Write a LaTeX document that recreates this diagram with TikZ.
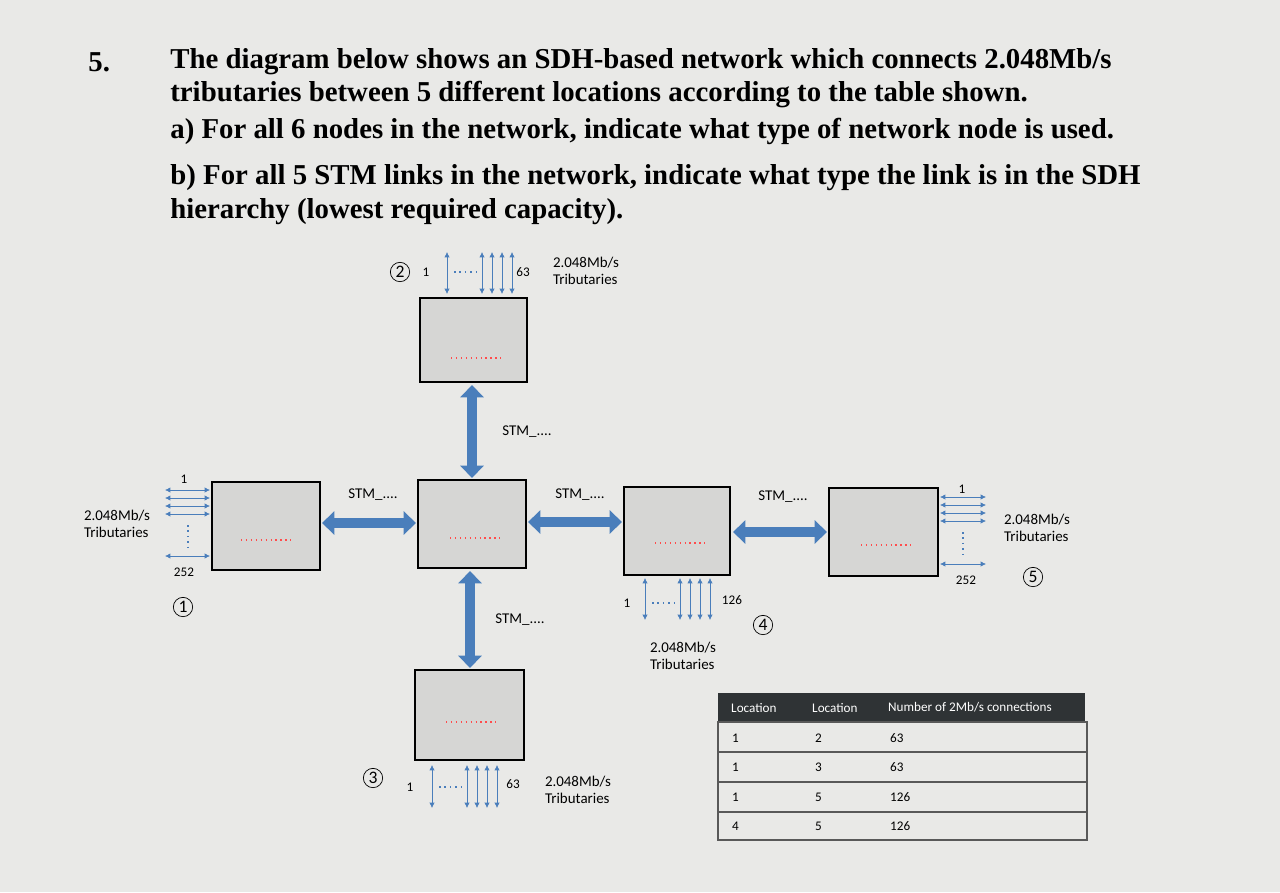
\documentclass[tikz,border=0pt]{standalone}
\usepackage{fontspec}
\setmainfont{Liberation Serif}
\newfontfamily\diag{Carlito}
\usetikzlibrary{arrows.meta}
\definecolor{linkblue}{HTML}{4A7EBB}
\definecolor{paper}{HTML}{E9E9E7}
\definecolor{boxgray}{HTML}{D6D6D4}
\definecolor{headgray}{HTML}{2F3335}
\tikzset{
    box/.style={draw=black, thick, fill=boxgray},
    stm/.style={linkblue, line width=5.5pt, {Triangle[width=13pt,length=7pt]}-{Triangle[width=13pt,length=7pt]}},
    trib/.style={linkblue, thin, {Latex[length=3pt,width=3pt]}-{Latex[length=3pt,width=3pt]}},
    dots/.style={linkblue, line width=1.3pt, dash pattern=on 0.9pt off 2.2pt},
    lbl/.style={font=\diag\fontsize{8.5}{10}\selectfont},
    num/.style={font=\diag\fontsize{7.5}{8}\selectfont},
    circnum/.style={draw, circle, thin, inner sep=0pt, minimum size=11pt, font=\diag\fontsize{10}{10}\selectfont},
    que/.style={anchor=west, font=\bfseries\fontsize{16.4}{18}\selectfont, inner sep=0pt}
}
\begin{document}
\begin{tikzpicture}[x=0.02cm, y=-0.02cm]
    \fill[paper] (0,0) rectangle (1280,892);
    \useasboundingbox (0,0) rectangle (1280,892);

    % Question text
    \node[que] (qn) at (88,62) {5.};
    \node[que] (q1) at (170,62) {The diagram below shows an SDH-based network which connects 2.048Mb/s};
    \node[que] (q2) at (170,95) {tributaries between 5 different locations according to the table shown.};
    \node[que] (q3) at (170,131) {a) For all 6 nodes in the network, indicate what type of network node is used.};
    \node[que] (q4) at (170,178) {b) For all 5 STM links in the network, indicate what type the link is in the SDH};
    \node[que] (q5) at (170,212) {hierarchy (lowest required capacity).};

    % Network nodes
    \draw[box] (420,298) rectangle (527,382);
    \draw[box] (212,482) rectangle (320,570);
    \draw[box] (418,480) rectangle (526,568);
    \draw[box] (624,487) rectangle (730,575);
    \draw[box] (829,488) rectangle (938,576);
    \draw[box] (415,670) rectangle (524,760);
    \foreach \cx/\cy in {476/358, 266/540, 475/538, 680/543, 886/545, 471/722}
        \draw[red!70, line width=1.2pt, dash pattern=on 0.8pt off 2pt] (\cx-25,\cy) -- (\cx+25,\cy);

    % STM links
    \coordinate (n2b) at (472,385);  \coordinate (ncT) at (472,478);
    \coordinate (n1r) at (322,523);  \coordinate (ncL) at (416,523);
    \coordinate (ncR) at (528,522);  \coordinate (n4l) at (622,522);
    \coordinate (n4r) at (733,532);  \coordinate (n5l) at (827,532);
    \coordinate (ncB) at (470,571);  \coordinate (n3t) at (470,668);
    \draw[stm] (n2b) -- (ncT);
    \draw[stm] (n1r) -- (ncL);
    \draw[stm] (ncR) -- (n4l);
    \draw[stm] (n4r) -- (n5l);
    \draw[stm] (ncB) -- (n3t);
    \node[lbl] (s1) at (527,432) {STM\_....};
    \node[lbl] (s2) at (373,495) {STM\_....};
    \node[lbl] (s3) at (580,495) {STM\_....};
    \node[lbl] (s4) at (783,497) {STM\_....};
    \node[lbl] (s5) at (520,620) {STM\_....};

    % Tributaries of node 2
    \foreach \x in {447,482,492,502,512} \draw[trib] (\x,252) -- (\x,294);
    \draw[dots] (454,272) -- (476,272);
    \node[num] (t2a) at (426,272) {1};
    \node[num] (t2b) at (523,272) {63};
    \node[circnum] (c2) at (400,272) {2};
    \node[lbl, align=left] (t2) at (586,271) {2.048Mb/s\\Tributaries};

    % Tributaries of node 1
    \foreach \y in {490,498,506,514,556} \draw[trib] (165,\y) -- (210,\y);
    \draw[dots] (188,525) -- (188,548);
    \node[num] (t1a) at (184,479) {1};
    \node[num] (t1b) at (184,572) {252};
    \node[circnum] (c1) at (183,607) {1};
    \node[lbl, align=left] (t1) at (117,524) {2.048Mb/s\\Tributaries};

    % Tributaries of node 5
    \foreach \y in {497,505,513,521,564} \draw[trib] (940,\y) -- (986,\y);
    \draw[dots] (963,532) -- (963,556);
    \node[num] (t5a) at (962,489) {1};
    \node[num] (t5b) at (966,580) {252};
    \node[circnum] (c5) at (1033,577) {5};
    \node[lbl, align=left] (t5) at (1037,528) {2.048Mb/s\\Tributaries};

    % Tributaries of node 4
    \foreach \x in {645,680,690,700,710} \draw[trib] (\x,578) -- (\x,620);
    \draw[dots] (652,603) -- (674,603);
    \node[num] (t4a) at (627,603) {1};
    \node[num] (t4b) at (732,600) {126};
    \node[circnum] (c4) at (763,625) {4};
    \node[lbl, align=left] (t4) at (683,656) {2.048Mb/s\\Tributaries};

    % Tributaries of node 3
    \foreach \x in {432,467,477,487,497} \draw[trib] (\x,765) -- (\x,808);
    \draw[dots] (439,787) -- (461,787);
    \node[num] (t3a) at (410,787) {1};
    \node[num] (t3b) at (513,784) {63};
    \node[circnum] (c3) at (373,778) {3};
    \node[lbl, align=left] (t3) at (578,790) {2.048Mb/s\\Tributaries};

    % Table
    \fill[headgray] (718,693) rectangle (1085,722);
    \draw[thick, gray!70!black] (718,722) rectangle (1087,840);
    \foreach \y in {752,782,812} \draw[thick, gray!70!black] (718,\y) -- (1087,\y);
    \node[num, white, anchor=west] (h1) at (725,708) {Location};
    \node[num, white, anchor=west] (h2) at (806,708) {Location};
    \node[num, white, anchor=west] (h3) at (882,707) {Number of 2Mb/s connections};
    \foreach \a/\b/\c/\y in {1/2/63/738, 1/3/63/767, 1/5/126/797, 4/5/126/826} {
        \node[num, anchor=west] at (726,\y) {\a};
        \node[num, anchor=west] at (809,\y) {\b};
        \node[num, anchor=west] at (884,\y) {\c};
    }
\end{tikzpicture}
\end{document}
